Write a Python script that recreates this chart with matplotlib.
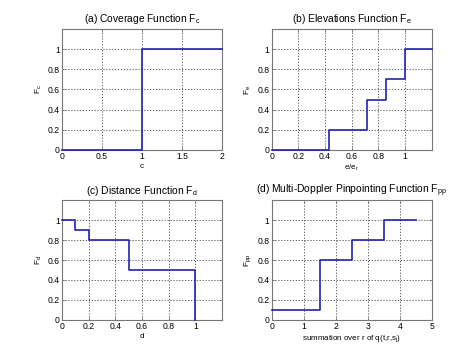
import matplotlib
matplotlib.use('Agg')
from matplotlib import pyplot as plt

plt.rcParams['font.family'] = ['Liberation Sans', 'DejaVu Sans']
plt.rcParams['mathtext.fontset'] = 'custom'
plt.rcParams['mathtext.rm'] = 'Liberation Sans'
plt.rcParams['mathtext.it'] = 'Liberation Sans'

# (a) coverage function
cov_x = [0, 1, 1, 2]
cov_y = [0, 0, 1, 1]
# (b) elevations function, steps at 3/7, 5/7, 6/7, 1
elev_x = [0, 0.4286, 0.4286, 0.7143, 0.7143, 0.8571, 0.8571, 1.0, 1.0, 1.2]
elev_y = [0, 0, 0.2, 0.2, 0.5, 0.5, 0.7, 0.7, 1.0, 1.0]
# (c) distance function
dist_x = [0, 0.1, 0.1, 0.2, 0.2, 0.5, 0.5, 1.0, 1.0]
dist_y = [1.0, 1.0, 0.9, 0.9, 0.8, 0.8, 0.5, 0.5, 0]
# (d) multi-doppler pinpointing function
pp_x = [0, 1.5, 1.5, 2.5, 2.5, 3.5, 3.5, 4.5]
pp_y = [0.1, 0.1, 0.6, 0.6, 0.8, 0.8, 1.0, 1.0]

panels = [
    ('(a) Coverage Function F$_{c}$', 'c', 'F$_{c}$', cov_x, cov_y,
     (0, 2), [0, 0.5, 1, 1.5, 2], ['0', '0.5', '1', '1.5', '2']),
    ('(b) Elevations Function F$_{e}$', 'e/e$_{r}$', 'F$_{e}$', elev_x, elev_y,
     (0, 1.2), [0, 0.2, 0.4, 0.6, 0.8, 1], ['0', '0.2', '0.4', '0.6', '0.8', '1']),
    ('(c) Distance Function F$_{d}$', 'd', 'F$_{d}$', dist_x, dist_y,
     (0, 1.2), [0, 0.2, 0.4, 0.6, 0.8, 1], ['0', '0.2', '0.4', '0.6', '0.8', '1']),
    ('(d) Multi-Doppler Pinpointing Function F$_{pp}$', 'summation over r of q(t,r,s$_{j}$)',
     'F$_{pp}$', pp_x, pp_y,
     (0, 5), [0, 1, 2, 3, 4, 5], ['0', '1', '2', '3', '4', '5']),
]

# axes boxes in figure fraction (left, bottom, width, height)
boxes = [
    [0.1375, 0.580, 0.355, 0.339],
    [0.6024, 0.580, 0.355, 0.339],
    [0.1375, 0.1045, 0.355, 0.334],
    [0.6024, 0.1045, 0.355, 0.334],
]

fig = plt.figure(figsize=(4.51, 3.57), dpi=100)
for box, (title, xlab, ylab, xs, ys, xlim, xt, xtl) in zip(boxes, panels):
    ax = fig.add_axes(box)
    ax.plot(xs, ys, color='#2222b0', lw=1.2, clip_on=False, zorder=3)
    ax.set_xlim(xlim)
    ax.set_ylim(0, 1.2)
    ax.set_xticks(xt)
    ax.set_xticklabels(xtl)
    ax.set_yticks([0, 0.2, 0.4, 0.6, 0.8, 1])
    ax.set_yticklabels(['0', '0.2', '0.4', '0.6', '0.8', '1'])
    ax.grid(True, color='#444444', ls=(0, (1.5, 2)), lw=0.6)
    ax.tick_params(direction='in', length=2.5, width=0.5, labelsize=6.2,
                   color='#666666', top=True, right=True, pad=1.5)
    for s in ax.spines.values():
        s.set_color('#777777')
        s.set_linewidth(0.8)
    ax.set_title(title, fontsize=7.4, pad=5)
    ax.set_xlabel(xlab, fontsize=5.8, labelpad=1.5)
    ax.set_ylabel(ylab, fontsize=6, labelpad=3)

plt.savefig('out.png', dpi=100)
plt.close()
